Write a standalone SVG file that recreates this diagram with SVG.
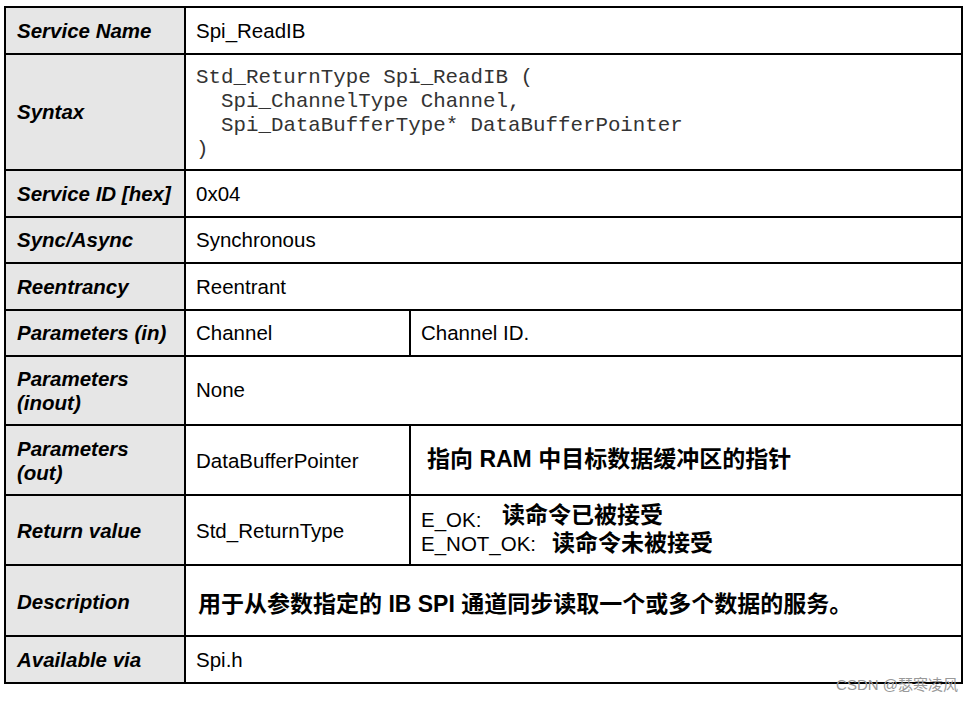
<svg xmlns="http://www.w3.org/2000/svg" width="977" height="702" viewBox="0 0 977 702">
<style>
.l{font:italic bold 20.5px "Liberation Sans",Arial,sans-serif;fill:#000}
.v{font:20.5px "Liberation Sans",Arial,sans-serif;fill:#000}
.m{font:20.8px "Liberation Mono","Courier New",monospace;fill:#333;white-space:pre}
.c{font:bold 23px "Liberation Sans","Noto Sans CJK SC",sans-serif;fill:#000}
.g{fill:#e6e6e6}
.ln{stroke:#000;stroke-width:2;fill:none}
</style>
<rect width="977" height="702" fill="#fff"/>
<g id="table">
<rect class="g" x="5" y="7" width="180" height="676"/>
<rect class="ln" x="5" y="7" width="957" height="676"/>
<path class="ln" d="M185 7V683M410 310V356M410 425V565M5 54H962M5 170H962M5 217H962M5 263H962M5 310H962M5 356H962M5 425H962M5 495H962M5 565H962M5 636H962"/>
</g>
<g id="labels">
<text class="l" x="17" y="38">Service Name</text>
<text class="l" x="17" y="119">Syntax</text>
<text class="l" x="17" y="201">Service ID [hex]</text>
<text class="l" x="17" y="247">Sync/Async</text>
<text class="l" x="17" y="294">Reentrancy</text>
<text class="l" x="17" y="340">Parameters (in)</text>
<text class="l" x="17" y="386">Parameters</text>
<text class="l" x="17" y="410">(inout)</text>
<text class="l" x="17" y="456">Parameters</text>
<text class="l" x="17" y="480">(out)</text>
<text class="l" x="17" y="538">Return value</text>
<text class="l" x="17" y="609">Description</text>
<text class="l" x="17" y="667">Available via</text>
</g>
<g id="values">
<text class="v" x="196" y="38">Spi_ReadIB</text>
<text class="m" x="196" y="83">Std_ReturnType Spi_ReadIB (</text>
<text class="m" x="221" y="107">Spi_ChannelType Channel,</text>
<text class="m" x="221" y="131">Spi_DataBufferType* DataBufferPointer</text>
<text class="m" x="196" y="155">)</text>
<text class="v" x="196" y="201">0x04</text>
<text class="v" x="196" y="247">Synchronous</text>
<text class="v" x="196" y="294">Reentrant</text>
<text class="v" x="196" y="340">Channel</text>
<text class="v" x="421" y="340">Channel ID.</text>
<text class="v" x="196" y="397">None</text>
<text class="v" x="196" y="468">DataBufferPointer</text>
<text class="c" x="427" y="467">指向 RAM 中目标数据缓冲区的指针</text>
<text class="v" x="421" y="527">E_OK:</text>
<text class="c" x="502" y="523">读命令已被接受</text>
<text class="v" x="421" y="551">E_NOT_OK:</text>
<text class="c" x="552" y="551">读命令未被接受</text>
<text class="v" x="196" y="538">Std_ReturnType</text>
<text class="c" x="198" y="612">用于从参数指定的 IB SPI 通道同步读取一个或多个数据的服务。</text>
<text class="v" x="196" y="667">Spi.h</text>
</g>
<text x="958" y="690" text-anchor="end" style="font:15px 'Liberation Sans','Noto Sans CJK SC',sans-serif;fill:#999">CSDN @瑟寒凌风</text>
</svg>
